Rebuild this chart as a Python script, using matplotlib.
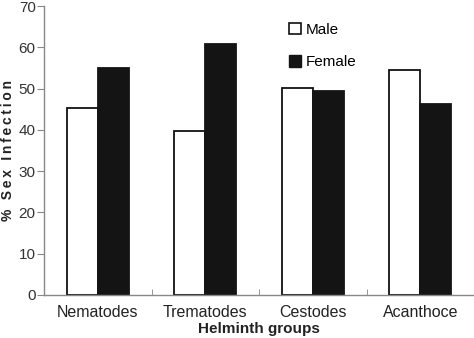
import matplotlib
matplotlib.use("Agg")
import matplotlib.pyplot as plt
import numpy as np
from matplotlib.patches import Patch

categories = ["Nematodes", "Trematodes", "Cestodes", "Acanthoce"]
male = [45.3, 39.7, 50.1, 54.5]
female = [55.0, 60.8, 49.4, 46.2]
yticks = [0, 10, 20, 30, 40, 50, 60, 70]

plt.rcParams['font.family'] = ['Liberation Sans', 'DejaVu Sans']

fig = plt.figure(figsize=(4.74, 3.38), dpi=100)
ax = fig.add_axes([44/474, 1 - 295/338, 430/474, 289/338])

x = np.arange(len(categories))
w = 0.29
ax.bar(x - w/2, male, w, facecolor='white', edgecolor='#111111', linewidth=1.3, label='Male')
ax.bar(x + w/2, female, w, facecolor='#141414', edgecolor='#141414', linewidth=1.3, label='Female')

ax.set_xlim(-0.5, 3.5)
ax.set_ylim(0, 70)
ax.set_yticks(yticks)
ax.set_xticks(x)
ax.set_xticklabels(categories, fontsize=11.5, color='#222222')
ax.tick_params(axis='x', length=0, pad=7)
ax.set_xticks([0.5, 1.5, 2.5], minor=True)
ax.tick_params(axis='x', which='minor', length=4, direction='in', color='#888888')
ax.tick_params(axis='y', labelsize=11, labelcolor='#333333', length=5, color='#888888', pad=1)

for s in ['top', 'right']:
    ax.spines[s].set_visible(False)
for s in ['left', 'bottom']:
    ax.spines[s].set_color('#888888')
    ax.spines[s].set_linewidth(1.0)

ylabel = '\u2009'.join('% Sex Infection')
fig.text(8/474, 1 - 150/338, ylabel, rotation=90, ha='center', va='center',
         fontsize=10, fontweight='bold', color='#222222')
ax.set_xlabel('Helminth groups', fontsize=11, fontweight='bold', color='#222222', labelpad=2)

handles = [Patch(facecolor='white', edgecolor='#111111', linewidth=1.2),
           Patch(facecolor='#141414', edgecolor='#141414')]
ax.legend(handles, ['Male', 'Female'], loc='upper left', bbox_to_anchor=(0.538, 0.99),
          frameon=False, fontsize=11, handlelength=0.8, handleheight=0.8,
          handletextpad=0.3, labelspacing=1.2)

fig.savefig('out.png', dpi=100)
